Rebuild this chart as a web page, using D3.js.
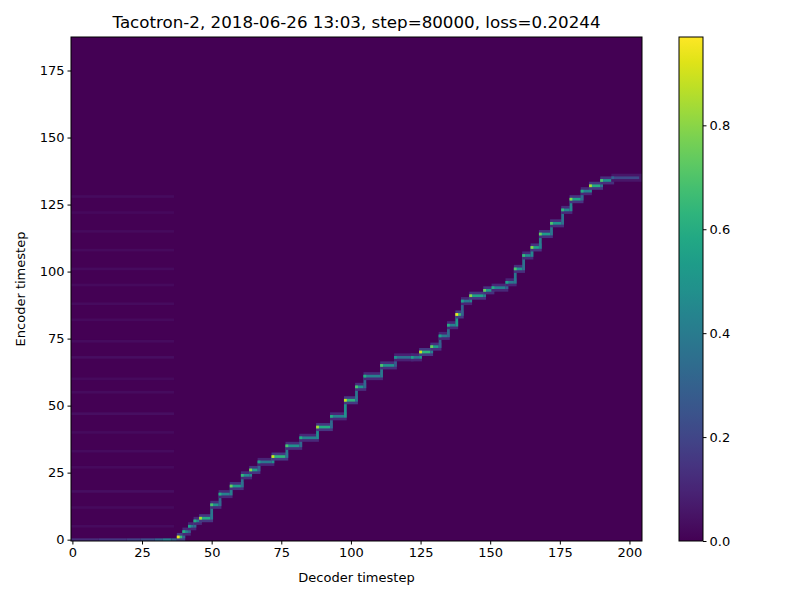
<!DOCTYPE html><html><head><meta charset="utf-8"><script src="https://cdn.jsdelivr.net/npm/d3@7"></script>
<style>body{margin:0;background:#fff}text{font-family:"DejaVu Sans",sans-serif}</style></head><body><svg id="c" width="800" height="600"></svg>
<script>
// waypoints of alignment path: decoder step, encoder step, peak weight
const pathDec = [38,40,42,44,46,50,53,57,61,64,67,72,77,82,88,93,98,102,105,111,116,122,125,129,132,135,138,140,143,148,151,156,159,162,165,168,172,176,179,183,186,190,194,204];
const pathEnc = [1,3,5,7,8,13,17,20,24,26,29,31,35,38,42,46,52,57,61,65,68,68,70,72,76,80,84,89,91,93,94,96,101,106,109,114,118,123,127,130,132,134,135,135];
const pathVal = [0.95,0.6,0.55,0.6,0.85,0.7,0.6,0.75,0.65,0.8,0.55,0.9,0.7,0.6,0.85,0.6,0.9,0.7,0.6,0.7,0.5,0.55,0.9,0.75,0.55,0.6,0.95,0.55,0.8,0.75,0.6,0.55,0.7,0.65,0.8,0.75,0.7,0.65,0.8,0.6,0.85,0.7,0.3,0.25];
// initial stuck-at-start row (encoder 0)
const startDec = [0,10,20,25,30,33,36];
const startVal = [0.12,0.15,0.18,0.22,0.3,0.4,0.3];
// faint background rows (encoder index, value) in early decoder steps
const bgRows = [5,12,18,27,33,40,47,55,60,68,74,82,88,95,101,108,115,122,128];
const bgVals = [0.03,0.025,0.035,0.025,0.03,0.025,0.035,0.03,0.025,0.035,0.03,0.025,0.03,0.025,0.03,0.025,0.025,0.02,0.03];
const xTicks=[0,25,50,75,100,125,150,175,200], yTicks=[0,25,50,75,100,125,150,175], cTicks=[0,0.2,0.4,0.6,0.8];
const vmax=0.97;

const svg=d3.select("#c");
const L=71,R=642,T=37,B=541;
const x=d3.scaleLinear().domain([-0.5,204.5]).range([L,R]);
const y=d3.scaleLinear().domain([-0.5,187.5]).range([B,T]);
const col=v=>d3.interpolateViridis(Math.min(1,v/vmax));
const g=svg.append("g");
g.append("rect").attr("x",L).attr("y",T).attr("width",R-L).attr("height",B-T).attr("fill",col(0));
const cell=(d0,d1,e0,e1,v)=>g.append("rect").attr("x",x(d0-0.5)).attr("width",x(d1+0.5)-x(d0-0.5))
  .attr("y",y(e1+0.5)).attr("height",y(e0-0.5)-y(e1+0.5)).attr("fill",col(v));
bgRows.forEach((e,i)=>cell(0,36,e,e,bgVals[i]));
startDec.forEach((d,i)=>{const n=i<startDec.length-1?startDec[i+1]-1:37;cell(d,n,0,0,startVal[i]);});
for(let i=0;i<pathDec.length-1;i++){
  const d0=pathDec[i],d1=pathDec[i+1],e0=pathEnc[i],e1=pathEnc[i+1];
  cell(d0,d1,e0-1,e0+1,pathVal[i]*0.18);
  cell(d0,d1-1,e0,e0,pathVal[i]*0.7);
  cell(d0,d0,e0,e0,pathVal[i]);
  if(e1>e0){cell(d1,d1,e0,e1-1,pathVal[i+1]*0.55);}
}
svg.append("rect").attr("x",L).attr("y",T).attr("width",R-L).attr("height",B-T).attr("fill","none").attr("stroke","#000");
const fmt=a=>a.call(s=>s.select(".domain").remove()).selectAll("text").attr("font-size",13).attr("font-family","DejaVu Sans");
svg.append("g").attr("transform",`translate(0,${B})`).call(d3.axisBottom(x).tickValues(xTicks).tickSize(3.5).tickSizeOuter(0)).call(fmt);
svg.append("g").attr("transform",`translate(${L},0)`).call(d3.axisLeft(y).tickValues(yTicks).tickSize(3.5).tickSizeOuter(0)).call(fmt);
svg.append("text").attr("x",(L+R)/2).attr("y",582).attr("text-anchor","middle").attr("font-size",13).text("Decoder timestep");
svg.append("text").attr("transform",`translate(25,${(T+B)/2}) rotate(-90)`).attr("text-anchor","middle").attr("font-size",13).text("Encoder timestep");
svg.append("text").attr("x",(L+R)/2).attr("y",28).attr("text-anchor","middle").attr("font-size",16.7).text("Tacotron-2, 2018-06-26 13:03, step=80000, loss=0.20244");
// colorbar
const cx=679,cw=24;
const cy=d3.scaleLinear().domain([0,vmax]).range([B,T]);
const defs=svg.append("defs").append("linearGradient").attr("id","gr").attr("x1",0).attr("x2",0).attr("y1",1).attr("y2",0);
d3.range(0,1.001,0.05).forEach(t=>defs.append("stop").attr("offset",t).attr("stop-color",d3.interpolateViridis(t)));
svg.append("rect").attr("x",cx).attr("y",T).attr("width",cw).attr("height",B-T).attr("fill","url(#gr)").attr("stroke","#000");
svg.append("g").attr("transform",`translate(${cx+cw},0)`).call(d3.axisRight(cy).tickValues(cTicks).tickFormat(d3.format(".1f")).tickSize(3.5).tickSizeOuter(0)).call(fmt);
</script></body></html>
